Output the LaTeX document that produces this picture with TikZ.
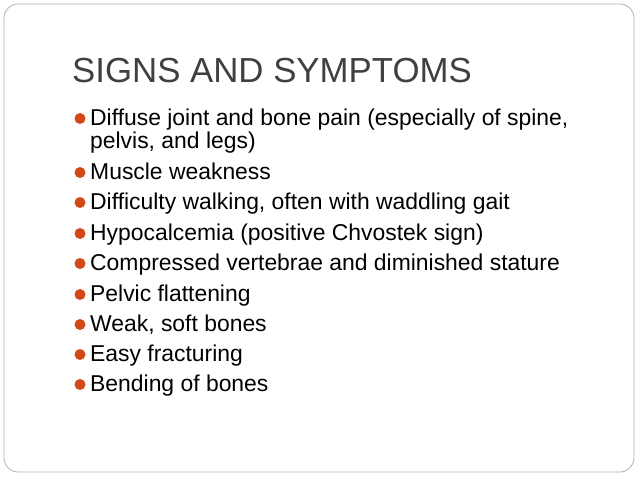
\documentclass[tikz,border=0pt]{standalone}
\usepackage{fontspec}
\setmainfont{Liberation Sans}
\definecolor{bul}{HTML}{D34817}
\definecolor{ttl}{HTML}{404040}
\begin{document}
\begin{tikzpicture}[x=1pt,y=-1pt,
  item/.style={anchor=base west,inner sep=0pt,font=\fontsize{22.9}{26}\selectfont},
  dot/.style={circle,fill=bul,inner sep=0pt,minimum size=11pt}]
\useasboundingbox (0,0) rectangle (638,478);
\fill[white] (0,0) rectangle (638,478);
\draw[gray!60,line width=0.8pt,rounded corners=14pt] (4,4) rectangle (634,472);
\node[anchor=base west,inner sep=0pt,text=ttl,font=\fontsize{34.8}{38}\selectfont] (title) at (72,83) {SIGNS AND SYMPTOMS};
\foreach \t/\y [count=\i] in {{Diffuse joint and bone pain (especially of spine,}/126,
  {Muscle weakness}/180,{Difficulty walking, often with waddling gait}/210,
  {Hypocalcemia (positive Chvostek sign)}/241,{Compressed vertebrae and diminished stature}/271,
  {Pelvic flattening}/302,{Weak, soft bones}/332,{Easy fracturing}/362,{Bending of bones}/392}{
  \node[item] (t\i) at (90,\y) {\t};
  \node[dot] (b\i) at (80,\y-7.5) {};
}
\node[item] (t1b) at (90,149) {pelvis, and legs)};
\end{tikzpicture}
\end{document}
